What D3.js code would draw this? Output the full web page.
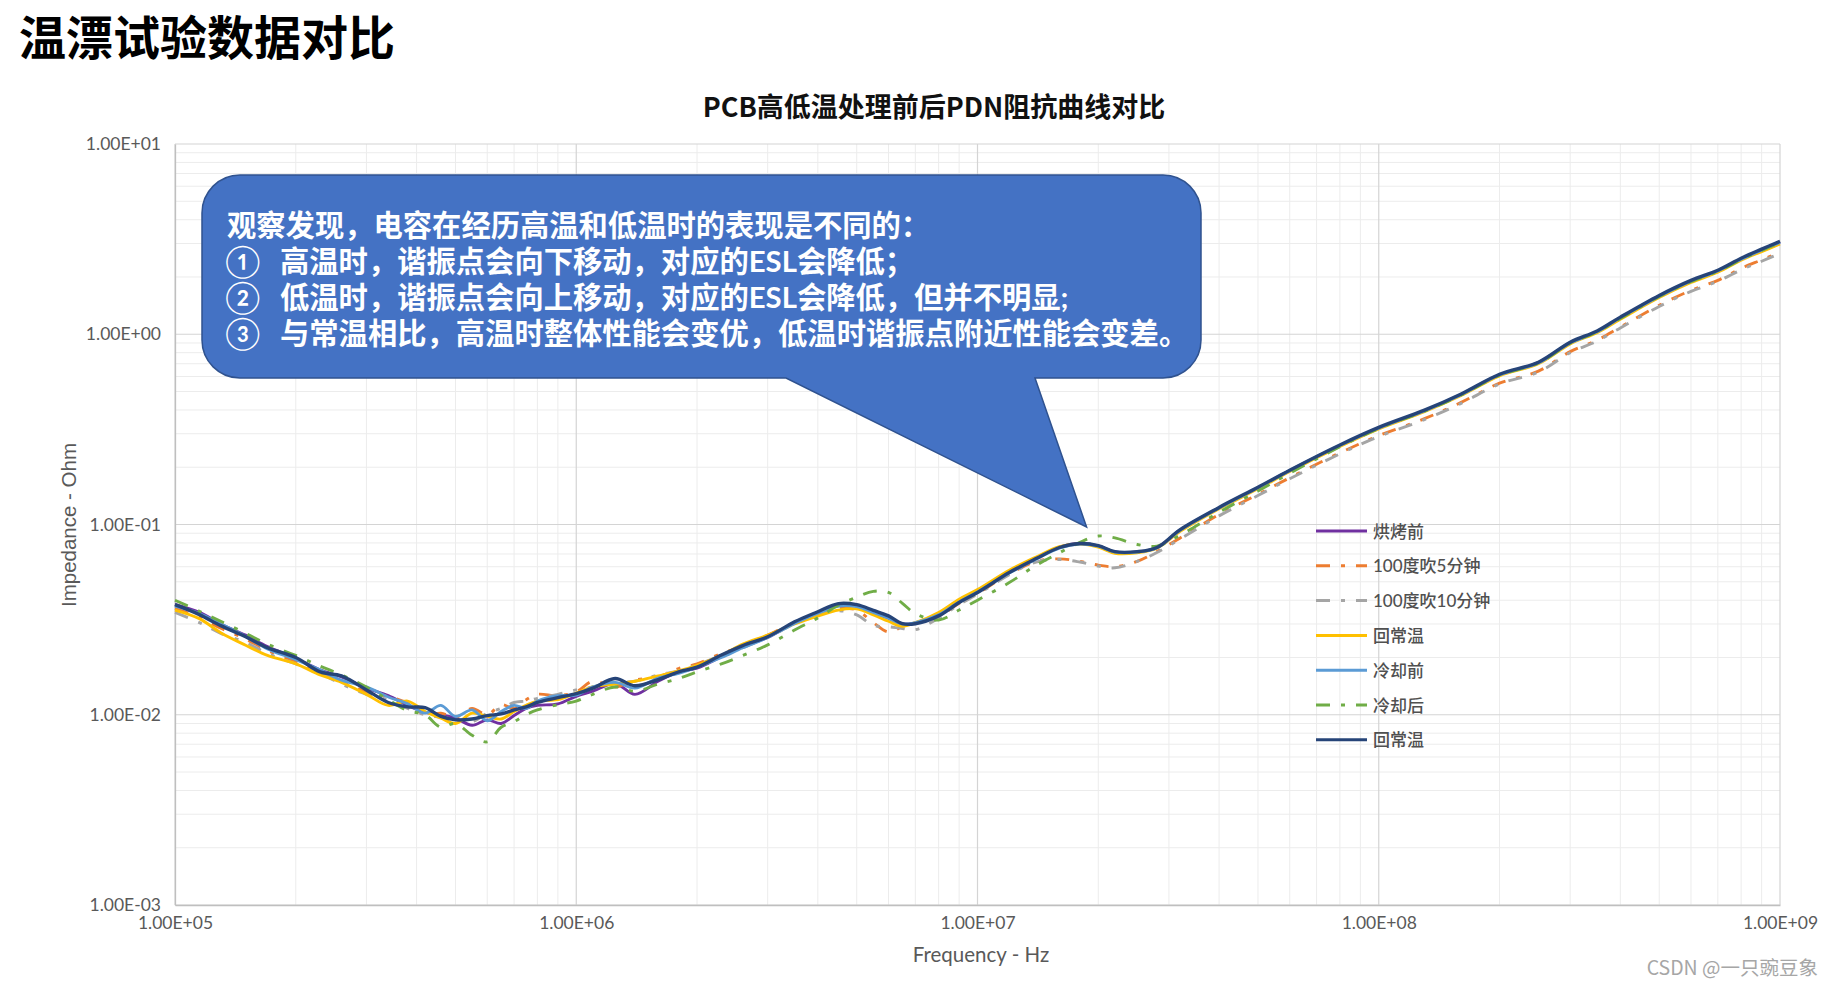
<!DOCTYPE html>
<html>
<head>
<meta charset="utf-8">
<script src="https://cdn.jsdelivr.net/npm/d3@7"></script>
<style>
  body { margin: 0; background: #fff; }
  svg { display: block; }
  text { font-family: Lato, "Noto Sans CJK SC", sans-serif; }
</style>
</head>
<body>
<div id="chart"></div>
<script>
// frequency grid (Hz), shared by all curves
const freqs = [1e5,1.15e5,1.3e5,1.5e5,1.7e5,2e5,2.3e5,2.6e5,3e5,3.4e5,3.8e5,4.2e5,4.6e5,5e5,5.5e5,6e5,6.5e5,7e5,7.5e5,8e5,9e5,
  1e6,1.1e6,1.25e6,1.4e6,1.6e6,1.8e6,2e6,2.3e6,2.6e6,3e6,3.5e6,4e6,4.5e6,5e6,5.5e6,6e6,6.5e6,7e6,8e6,9e6,
  1e7,1.2e7,1.4e7,1.6e7,1.8e7,2e7,2.2e7,2.5e7,2.8e7,3.2e7,4e7,5e7,6e7,8e7,
  1e8,1.3e8,1.6e8,2e8,2.5e8,3e8,3.5e8,4e8,5e8,6e8,7e8,8e8,9e8,1e9];

// impedance (Ohm) per curve
const bakeBefore = [0.0380,0.0345,0.0300,0.0262,0.0228,0.0198,0.0172,0.0158,0.0138,0.0126,
  0.0112,0.0103,0.0100,0.0096,0.0088,0.0094,0.0090,0.0099,0.0108,0.0112,
  0.0114,0.0125,0.0133,0.0146,0.0128,0.0150,0.0168,0.0176,0.0202,0.0228,
  0.0255,0.0305,0.0345,0.0378,0.0372,0.0345,0.0322,0.0300,0.0303,0.0333,
  0.0392,0.0442,0.0562,0.0665,0.0760,0.0795,0.0772,0.0718,0.0718,0.0755,
  0.0935,0.122,0.156,0.192,0.260,0.322,0.396,0.481,0.612,0.709,
  0.902,1.03,1.22,1.59,1.90,2.15,2.49,2.78,3.05];
const hot5min = [0.0362,0.0325,0.0285,0.0250,0.0218,0.0190,0.0165,0.0150,0.0132,0.0125,
  0.0115,0.0100,0.0102,0.0097,0.0108,0.0100,0.0113,0.0108,0.0120,0.0128,
  0.0126,0.0132,0.0150,0.0140,0.0152,0.0158,0.0175,0.0185,0.0210,0.0228,
  0.0262,0.0305,0.0340,0.0362,0.0355,0.0305,0.0272,0.0290,0.0305,0.0330,
  0.0385,0.0435,0.0550,0.0640,0.0660,0.0640,0.0612,0.0600,0.0640,0.0720,
  0.0850,0.113,0.144,0.176,0.238,0.293,0.360,0.437,0.553,0.640,
  0.810,0.930,1.09,1.42,1.70,1.92,2.22,2.46,2.70];
const hot10min = [0.0345,0.0305,0.0268,0.0240,0.0210,0.0185,0.0165,0.0145,0.0128,0.0120,
  0.0108,0.0100,0.0097,0.0095,0.0092,0.0102,0.0108,0.0116,0.0118,0.0122,
  0.0128,0.0135,0.0140,0.0148,0.0150,0.0162,0.0170,0.0183,0.0205,0.0225,
  0.0255,0.0300,0.0335,0.0352,0.0335,0.0295,0.0290,0.0284,0.0280,0.0322,
  0.0380,0.0430,0.0545,0.0635,0.0655,0.0635,0.0605,0.0592,0.0640,0.0712,
  0.0840,0.111,0.142,0.174,0.235,0.290,0.356,0.432,0.548,0.633,
  0.800,0.920,1.08,1.40,1.68,1.90,2.18,2.42,2.66];
const backRoom1 = [0.0355,0.0320,0.0270,0.0232,0.0205,0.0185,0.0162,0.0148,0.0128,0.0112,
  0.0118,0.0104,0.0096,0.0090,0.0102,0.0098,0.0095,0.0104,0.0112,0.0118,
  0.0120,0.0130,0.0140,0.0145,0.0150,0.0160,0.0170,0.0182,0.0205,0.0235,
  0.0262,0.0300,0.0330,0.0355,0.0360,0.0335,0.0310,0.0292,0.0305,0.0345,
  0.0405,0.0455,0.0575,0.0675,0.0765,0.0790,0.0760,0.0705,0.0710,0.0750,
  0.0920,0.121,0.154,0.190,0.257,0.318,0.392,0.475,0.604,0.700,
  0.890,1.02,1.20,1.56,1.87,2.12,2.45,2.72,2.98];
const coolBefore = [0.0372,0.0340,0.0300,0.0258,0.0222,0.0195,0.0172,0.0152,0.0140,0.0124,
  0.0114,0.0102,0.0112,0.0098,0.0106,0.0093,0.0104,0.0112,0.0108,0.0118,
  0.0126,0.0127,0.0140,0.0148,0.0138,0.0156,0.0165,0.0178,0.0200,0.0225,
  0.0255,0.0302,0.0342,0.0372,0.0370,0.0345,0.0322,0.0300,0.0305,0.0335,
  0.0392,0.0442,0.0556,0.0658,0.0752,0.0790,0.0770,0.0716,0.0716,0.0752,
  0.0932,0.122,0.156,0.192,0.260,0.321,0.396,0.480,0.611,0.707,
  0.900,1.03,1.22,1.58,1.90,2.15,2.48,2.77,3.04];
const coolAfter = [0.0400,0.0350,0.0310,0.0268,0.0235,0.0205,0.0180,0.0162,0.0140,0.0120,
  0.0105,0.0100,0.0086,0.0090,0.0078,0.0072,0.0086,0.0092,0.0100,0.0106,
  0.0113,0.0118,0.0128,0.0140,0.0133,0.0145,0.0155,0.0168,0.0185,0.0205,
  0.0233,0.0279,0.0323,0.0376,0.0415,0.0445,0.0440,0.0385,0.0340,0.0315,
  0.0355,0.0400,0.0495,0.0610,0.0710,0.0806,0.0870,0.0850,0.0785,0.0770,
  0.0880,0.116,0.150,0.186,0.256,0.320,0.394,0.478,0.609,0.705,
  0.898,1.03,1.21,1.58,1.89,2.14,2.47,2.76,3.03];
const backRoom2 = [0.0379,0.0336,0.0294,0.0257,0.0225,0.0200,0.0168,0.0160,0.0135,0.0116,
  0.0110,0.0109,0.0098,0.0094,0.0095,0.0099,0.0101,0.0106,0.0110,0.0116,
  0.0123,0.0129,0.0138,0.0155,0.0142,0.0153,0.0168,0.0178,0.0206,0.0231,
  0.0257,0.0308,0.0348,0.0384,0.0379,0.0354,0.0331,0.0301,0.0301,0.0331,
  0.0389,0.0439,0.0559,0.0662,0.0757,0.0794,0.0775,0.0720,0.0720,0.0757,
  0.0940,0.123,0.157,0.193,0.262,0.324,0.399,0.484,0.616,0.713,
  0.908,1.04,1.23,1.60,1.92,2.17,2.51,2.80,3.08];

const seriesNames = ["烘烤前", "100度吹5分钟", "100度吹10分钟", "回常温", "冷却前", "冷却后", "回常温"];
const seriesValues = [bakeBefore, hot5min, hot10min, backRoom1, coolBefore, coolAfter, backRoom2];
const seriesColors = ["#7030A0", "#ED7D31", "#A5A5A5", "#FFC000", "#5B9BD5", "#70AD47", "#264478"];
const seriesDash = [null, "14,11,4,11", "14,11,4,11", null, null, "14,11,4,11", null];

const xTickValues = [1e5, 1e6, 1e7, 1e8, 1e9];
const xTickLabels = ["1.00E+05", "1.00E+06", "1.00E+07", "1.00E+08", "1.00E+09"];
const yTickValues = [1e-3, 1e-2, 1e-1, 1, 10];
const yTickLabels = ["1.00E-03", "1.00E-02", "1.00E-01", "1.00E+00", "1.00E+01"];

const noteLines = [
  ["", "观察发现，电容在经历高温和低温时的表现是不同的："],
  ["①", "高温时，谐振点会向下移动，对应的ESL会降低；"],
  ["②", "低温时，谐振点会向上移动，对应的ESL会降低，但并不明显;"],
  ["③", "与常温相比，高温时整体性能会变优，低温时谐振点附近性能会变差。"]
];

const W = 1834, H = 985;
const margin = { top: 144, right: 54, bottom: 80, left: 175 };
const width = W - margin.left - margin.right;
const height = H - margin.top - margin.bottom;

const svg = d3.select("#chart").append("svg")
    .attr("width", W)
    .attr("height", H);

svg.append("rect").attr("width", W).attr("height", H).attr("fill", "#fff");

// page title
svg.append("text")
    .attr("x", 19)
    .attr("y", 55)
    .style("font-family", "'Noto Sans CJK SC'")
    .style("font-weight", "bold")
    .style("font-size", "47px")
    .attr("fill", "#000")
    .text("温漂试验数据对比");

// chart title
svg.append("text")
    .attr("x", 934)
    .attr("y", 105)
    .attr("text-anchor", "middle")
    .attr("dominant-baseline", "central")
    .style("font-family", "'Noto Sans CJK SC'")
    .style("font-weight", "bold")
    .style("font-size", "27px")
    .attr("fill", "#111")
    .text("PCB高低温处理前后PDN阻抗曲线对比");

const g = svg.append("g").attr("transform", `translate(${margin.left},${margin.top})`);

const x = d3.scaleLog().domain([1e5, 1e9]).range([0, width]);
const y = d3.scaleLog().domain([1e-3, 10]).range([height, 0]);

// minor grid
const minorX = [], minorY = [];
for (let d = 1e5; d < 1e9; d *= 10) for (let k = 2; k <= 9; k++) minorX.push(k * d);
for (let d = 1e-3; d < 10; d *= 10) for (let k = 2; k <= 9; k++) minorY.push(k * d);

g.append("g").selectAll("line").data(minorX).join("line")
    .attr("x1", d => x(d)).attr("x2", d => x(d))
    .attr("y1", 0).attr("y2", height)
    .attr("stroke", "#ececec").attr("stroke-width", 1);
g.append("g").selectAll("line").data(minorY).join("line")
    .attr("x1", 0).attr("x2", width)
    .attr("y1", d => y(d)).attr("y2", d => y(d))
    .attr("stroke", "#ececec").attr("stroke-width", 1);

// major grid
g.append("g").selectAll("line").data(xTickValues).join("line")
    .attr("x1", d => x(d)).attr("x2", d => x(d))
    .attr("y1", 0).attr("y2", height)
    .attr("stroke", "#d4d4d4").attr("stroke-width", 1.2);
g.append("g").selectAll("line").data(yTickValues).join("line")
    .attr("x1", 0).attr("x2", width)
    .attr("y1", d => y(d)).attr("y2", d => y(d))
    .attr("stroke", "#d4d4d4").attr("stroke-width", 1.2);

// axes
const xAxis = g.append("g")
    .attr("transform", `translate(0,${height})`)
    .call(d3.axisBottom(x).tickValues(xTickValues).tickFormat((d, i) => xTickLabels[i]).tickSize(0).tickPadding(12));
const yAxis = g.append("g")
    .call(d3.axisLeft(y).tickValues(yTickValues).tickFormat((d, i) => yTickLabels[i]).tickSize(0).tickPadding(14));
[xAxis, yAxis].forEach(a => {
    a.select(".domain").attr("stroke", "#bfbfbf").attr("stroke-width", 1.3);
    a.selectAll("text")
        .style("font-family", "Lato")
        .style("font-size", "17.5px")
        .attr("fill", "#595959");
});

// axis titles
svg.append("text")
    .attr("x", 981)
    .attr("y", 954)
    .attr("text-anchor", "middle")
    .attr("dominant-baseline", "central")
    .style("font-size", "20.5px")
    .attr("fill", "#595959")
    .text("Frequency - Hz");

svg.append("text")
    .attr("transform", "translate(68,525) rotate(-90)")
    .attr("text-anchor", "middle")
    .attr("dominant-baseline", "central")
    .style("font-family", "'Liberation Sans'")
    .style("font-size", "20.5px")
    .attr("fill", "#595959")
    .text("Impedance - Ohm");

// curves
const line = d3.line()
    .x((d, i) => x(freqs[i]))
    .y(d => y(d))
    .curve(d3.curveCatmullRom.alpha(0.5));

seriesValues.forEach((vals, i) => {
    g.append("path")
        .datum(vals)
        .attr("fill", "none")
        .attr("stroke", seriesColors[i])
        .attr("stroke-width", i === 6 ? 3.4 : 2.9)
        .attr("stroke-dasharray", seriesDash[i])
        .attr("stroke-linejoin", "round")
        .attr("d", line);
});

// callout bubble
const bx0 = 202, bx1 = 1201, by0 = 175, by1 = 378, r = 38;
const tipX = margin.left + x(1.87e7), tipY = margin.top + y(0.097);
const bubble = d3.path();
bubble.moveTo(bx0 + r, by0);
bubble.lineTo(bx1 - r, by0);
bubble.arcTo(bx1, by0, bx1, by0 + r, r);
bubble.lineTo(bx1, by1 - r);
bubble.arcTo(bx1, by1, bx1 - r, by1, r);
bubble.lineTo(1035, by1);
bubble.lineTo(tipX, tipY);
bubble.lineTo(786, by1);
bubble.lineTo(bx0 + r, by1);
bubble.arcTo(bx0, by1, bx0, by1 - r, r);
bubble.lineTo(bx0, by0 + r);
bubble.arcTo(bx0, by0, bx0 + r, by0, r);
bubble.closePath();

svg.append("path")
    .attr("d", bubble.toString())
    .attr("fill", "#4472C4")
    .attr("stroke", "#2F528F")
    .attr("stroke-width", 1.5);

const note = svg.append("g")
    .style("font-family", "'Noto Sans CJK SC'")
    .style("font-weight", "bold")
    .style("font-size", "29.3px")
    .attr("fill", "#fff");
noteLines.forEach((ln, i) => {
    const ty = 224 + i * 36;
    if (ln[0]) {
        note.append("text").attr("x", 225).attr("y", ty)
            .attr("dominant-baseline", "central")
            .style("font-size", "32px").style("font-weight", "normal")
            .text(ln[0]);
        note.append("text").attr("x", 280).attr("y", ty)
            .attr("dominant-baseline", "central").text(ln[1]);
    } else {
        note.append("text").attr("x", 227).attr("y", ty)
            .attr("dominant-baseline", "central").text(ln[1]);
    }
});

// legend
const legend = svg.append("g").attr("transform", "translate(1316,531)");
seriesNames.forEach((name, i) => {
    const row = legend.append("g").attr("transform", `translate(0,${i * 34.8})`);
    row.append("line")
        .attr("x1", 0).attr("x2", 51)
        .attr("stroke", seriesColors[i])
        .attr("stroke-width", 3)
        .attr("stroke-dasharray", seriesDash[i]);
    row.append("text")
        .attr("x", 57)
        .attr("dominant-baseline", "central")
        .style("font-size", "17px")
        .style("font-weight", "500")
        .attr("fill", "#505050")
        .text(name);
});

// watermark
svg.append("text")
    .attr("x", 1818)
    .attr("y", 966)
    .attr("text-anchor", "end")
    .attr("dominant-baseline", "central")
    .style("font-family", "'Noto Sans CJK SC'")
    .style("font-size", "19.5px")
    .attr("fill", "#a6a6a6")
    .text("CSDN @一只豌豆象");
</script>
</body>
</html>
